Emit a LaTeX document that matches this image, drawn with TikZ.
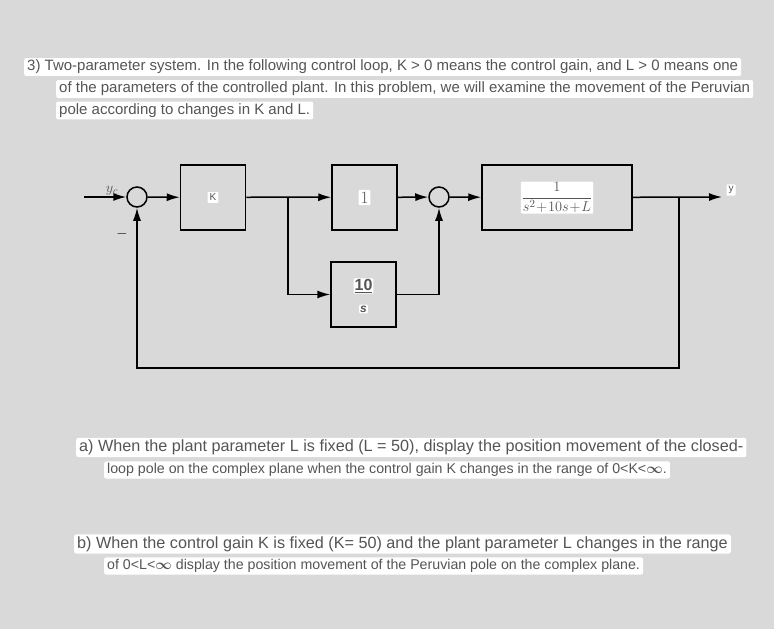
\documentclass[tikz,border=0pt]{standalone}
\usepackage{fontspec}
\setmainfont{Liberation Sans}
\usetikzlibrary{arrows.meta}
\definecolor{bg}{HTML}{D9D9D9}
\definecolor{tx}{HTML}{555555}
\begin{document}
\begin{tikzpicture}[x=1pt,y=-1pt,
  line/.style={line width=1.5pt,black},
  arr/.style={line,-{Latex[length=13pt,width=8pt]}},
  blk/.style={draw=black,line width=1.5pt,minimum width=65pt,minimum height=65pt,inner sep=0pt},
  sum/.style={draw=black,line width=1.5pt,circle,minimum size=20pt,inner sep=0pt},
  tl/.style={fill=white,text=tx,anchor=west,rounded corners=2pt,inner xsep=3pt,inner ysep=2pt,font=\fontsize{15}{17}\selectfont},
  ts/.style={tl,font=\fontsize{14.2}{16}\selectfont},
  lab/.style={fill=white,text=tx,inner sep=2pt,rounded corners=1pt}]
\fill[bg] (0,0) rectangle (774,629);
\useasboundingbox (0,0) rectangle (774,629);
% text
\node[tl] (t1) at (24,67) {3) Two-parameter system. In the following control loop, K > 0 means the control gain, and L > 0 means one};
\node[tl] (t2) at (56,89) {of the parameters of the controlled plant. In this problem, we will examine the movement of the Peruvian};
\node[tl] (t3) at (56,110.5) {pole according to changes in K and L.};
\node[tl,font=\fontsize{16.2}{18}\selectfont] (a1) at (76,447.5) {a) When the plant parameter L is fixed (L = 50), display the position movement of the closed-};
\node[ts] (a2) at (104,470) {loop pole on the complex plane when the control gain K changes in the range of 0<K<{\boldmath$\infty$}.};
\node[tl,font=\fontsize{16.2}{18}\selectfont] (b1) at (74,544) {b) When the control gain K is fixed (K= 50) and the plant parameter L changes in the range};
\node[ts] (b2) at (104,566) {of 0<L<{\boldmath$\infty$} display the position movement of the Peruvian pole on the complex plane.};
% diagram
\node[text=tx,font=\fontsize{15}{17}\selectfont] (yc) at (112,191) {$y_c$};
\coordinate (in) at (84,197);
\node[sum] (s1) at (137,197) {};
\node[blk] (K) at (213,197.5) {};
\node[lab,font=\fontsize{10}{12}\selectfont] at (K) {K};
\node[blk] (one) at (364.5,197.5) {};
\node[lab,font=\fontsize{17}{19}\selectfont\rmfamily] at (one) {$1$};
\node[blk] (ten) at (363.5,294.5) {};
\node[lab,font=\bfseries\fontsize{16}{18}\selectfont,inner sep=1pt] at (363.5,286) {\underline{10}};
\node[lab,font=\bfseries\itshape\fontsize{12}{14}\selectfont,inner sep=1pt] at (363.5,309) {s};
\node[sum] (s2) at (439,197) {};
\node[draw=black,line width=1.5pt,minimum width=150pt,minimum height=65pt,inner sep=0pt] (G) at (557,197.5) {};
\node[lab,font=\fontsize{15}{17}\selectfont\rmfamily,inner sep=1pt] at (G) {$\displaystyle\frac{1}{s^2\!+\!10s\!+\!L}$};
\node[lab,font=\fontsize{10}{12}\selectfont] (y) at (731,190) {y};
\coordinate (out) at (722,197);
\coordinate (br) at (288,197);
\coordinate (fb) at (679,197);
\node[text=black,font=\fontsize{14}{16}\selectfont] (minus) at (122,234) {$-$};
\draw[arr] (in) -- (s1);
\draw[arr] (s1) -- (K);
\draw[line] (K) -- (br);
\draw[arr] (br) -- (one);
\draw[arr] (br) |- (ten);
\draw[arr] (one) -- (s2);
\draw[arr] (ten.east) -| (s2.south);
\draw[arr] (s2) -- (G);
\draw[arr] (G) -- (out);
\draw[arr] (fb) -- (679,368) -- (137,368) -- (s1.south);
\end{tikzpicture}
\end{document}
